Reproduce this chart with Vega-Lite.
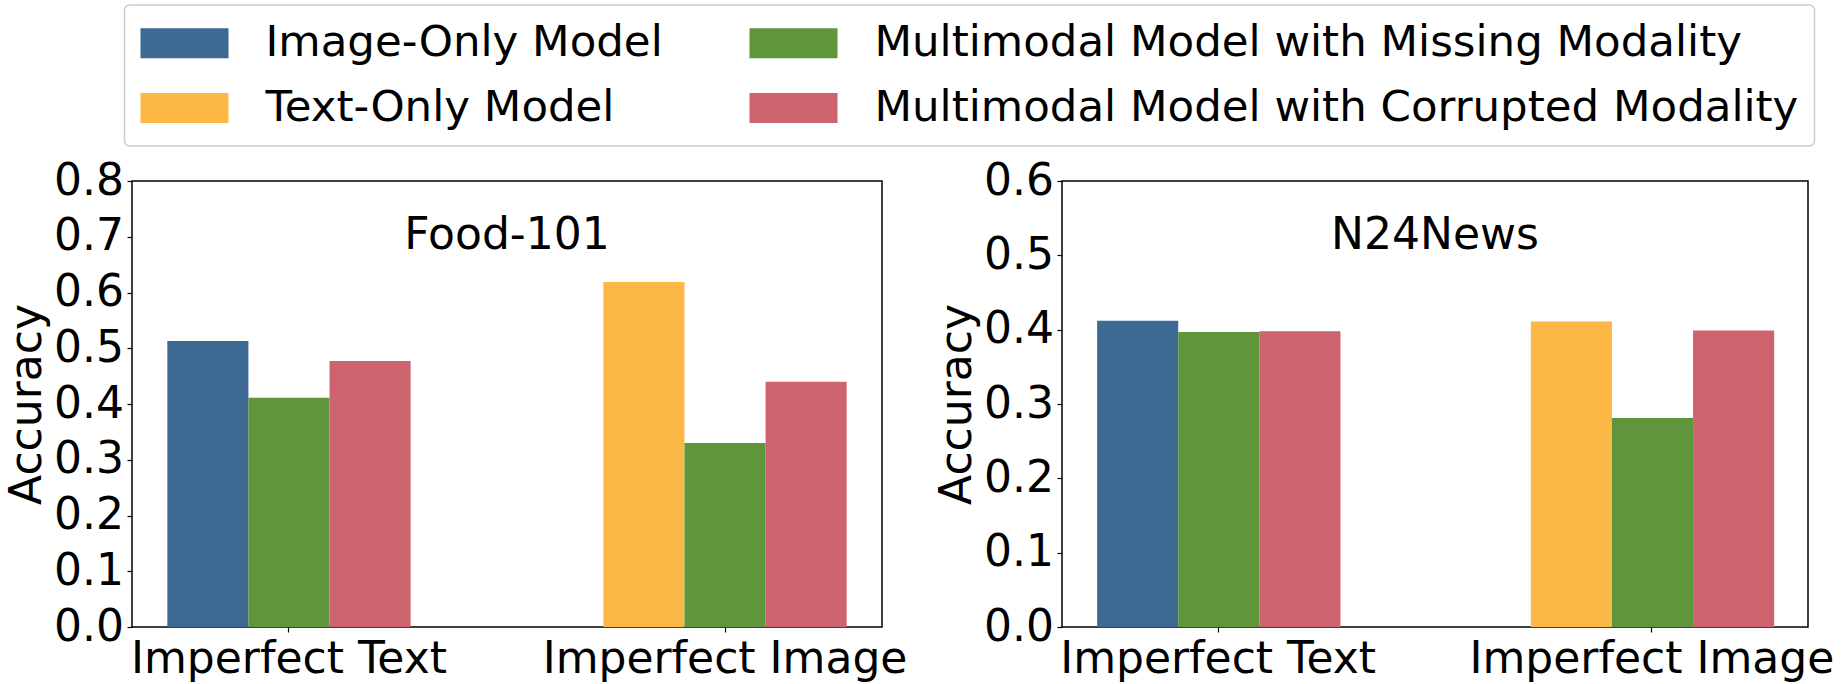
{
  "$schema": "https://vega.github.io/schema/vega-lite/v6.json",
  "padding": {"left": 4, "top": 4, "right": 5, "bottom": 5},
  "data": {
    "values": [
      {"dataset": "Food-101", "condition": "Imperfect Text", "slot": "a", "model": "Image-Only Model", "accuracy": 0.513},
      {"dataset": "Food-101", "condition": "Imperfect Text", "slot": "b", "model": "Multimodal Model with Missing Modality", "accuracy": 0.411},
      {"dataset": "Food-101", "condition": "Imperfect Text", "slot": "c", "model": "Multimodal Model with Corrupted Modality", "accuracy": 0.477},
      {"dataset": "Food-101", "condition": "Imperfect Image", "slot": "a", "model": "Text-Only Model", "accuracy": 0.619},
      {"dataset": "Food-101", "condition": "Imperfect Image", "slot": "b", "model": "Multimodal Model with Missing Modality", "accuracy": 0.330},
      {"dataset": "Food-101", "condition": "Imperfect Image", "slot": "c", "model": "Multimodal Model with Corrupted Modality", "accuracy": 0.440},
      {"dataset": "N24News", "condition": "Imperfect Text", "slot": "a", "model": "Image-Only Model", "accuracy": 0.412},
      {"dataset": "N24News", "condition": "Imperfect Text", "slot": "b", "model": "Multimodal Model with Missing Modality", "accuracy": 0.397},
      {"dataset": "N24News", "condition": "Imperfect Text", "slot": "c", "model": "Multimodal Model with Corrupted Modality", "accuracy": 0.398},
      {"dataset": "N24News", "condition": "Imperfect Image", "slot": "a", "model": "Text-Only Model", "accuracy": 0.411},
      {"dataset": "N24News", "condition": "Imperfect Image", "slot": "b", "model": "Multimodal Model with Missing Modality", "accuracy": 0.281},
      {"dataset": "N24News", "condition": "Imperfect Image", "slot": "c", "model": "Multimodal Model with Corrupted Modality", "accuracy": 0.399}
    ]
  },
  "spacing": 26,
  "hconcat": [
    {
      "width": 750,
      "height": 446,
      "title": {"text": "Food-101"},
      "transform": [{"filter": "datum.dataset === 'Food-101'"}],
      "mark": {"type": "bar"},
      "encoding": {
        "x": {
          "field": "condition", "type": "nominal",
          "sort": ["Imperfect Text", "Imperfect Image"],
          "scale": {"paddingInner": 0.442, "paddingOuter": 0.081},
          "axis": {"title": null, "labelAngle": 0}
        },
        "xOffset": {
          "field": "slot", "type": "nominal",
          "scale": {"domain": ["a", "b", "c"], "paddingInner": 0, "paddingOuter": 0}
        },
        "y": {
          "field": "accuracy", "type": "quantitative",
          "scale": {"domain": [0, 0.8], "nice": false},
          "axis": {"title": "Accuracy", "values": [0, 0.1, 0.2, 0.3, 0.4, 0.5, 0.6, 0.7, 0.8], "format": ".1f"}
        },
        "color": {
          "field": "model", "type": "nominal",
          "scale": {
            "domain": ["Image-Only Model", "Text-Only Model", "Multimodal Model with Missing Modality", "Multimodal Model with Corrupted Modality"],
            "range": ["#3c6a92", "#fcb847", "#5f963c", "#cd636e"]
          },
          "legend": {"orient": "none", "legendX": -7.5, "legendY": -176}
        }
      }
    },
    {
      "width": 746,
      "height": 446,
      "title": {"text": "N24News"},
      "transform": [{"filter": "datum.dataset === 'N24News'"}],
      "mark": {"type": "bar"},
      "encoding": {
        "x": {
          "field": "condition", "type": "nominal",
          "sort": ["Imperfect Text", "Imperfect Image"],
          "scale": {"paddingInner": 0.442, "paddingOuter": 0.081},
          "axis": {"title": null, "labelAngle": 0}
        },
        "xOffset": {
          "field": "slot", "type": "nominal",
          "scale": {"domain": ["a", "b", "c"], "paddingInner": 0, "paddingOuter": 0}
        },
        "y": {
          "field": "accuracy", "type": "quantitative",
          "scale": {"domain": [0, 0.6], "nice": false},
          "axis": {"title": "Accuracy", "values": [0, 0.1, 0.2, 0.3, 0.4, 0.5, 0.6], "format": ".1f"}
        },
        "color": {
          "field": "model", "type": "nominal",
          "scale": {
            "domain": ["Image-Only Model", "Text-Only Model", "Multimodal Model with Missing Modality", "Multimodal Model with Corrupted Modality"],
            "range": ["#3c6a92", "#fcb847", "#5f963c", "#cd636e"]
          },
          "legend": {"orient": "none", "legendX": -7.5, "legendY": -176}
        }
      }
    }
  ],
  "config": {
    "font": "DejaVu Sans",
    "view": {"stroke": "black", "strokeWidth": 1.5},
    "axis": {
      "domain": false,
      "grid": false,
      "tickColor": "black",
      "tickSize": 5,
      "tickWidth": 1.2,
      "labelColor": "black",
      "labelFont": "DejaVu Sans",
      "labelFontSize": 44,
      "labelLimit": 600,
      "titleFont": "DejaVu Sans",
      "titleFontSize": 44,
      "titleFontWeight": "normal",
      "titleColor": "black"
    },
    "axisX": {"labelPadding": 5},
    "axisY": {"labelPadding": 3.5, "titlePadding": 4, "labelFlush": false, "labelOverlap": false},
    "title": {
      "font": "DejaVu Sans",
      "fontSize": 44,
      "fontWeight": "normal",
      "color": "black",
      "offset": -99,
      "baseline": "alphabetic",
      "anchor": "middle",
      "frame": "group"
    },
    "legend": {
      "title": null,
      "columns": 2,
      "symbolType": "M-1,-0.68L3,-0.68L3,0.68L-1,0.68Z",
      "symbolSize": 1936,
      "symbolStrokeWidth": 0,
      "symbolOpacity": 1,
      "labelFont": "DejaVu Sans",
      "labelFontSize": 43.5,
      "labelColor": "black",
      "labelOffset": 81,
      "labelLimit": 0,
      "columnPadding": 86,
      "rowPadding": 21,
      "padding": 16,
      "strokeColor": "#cccccc",
      "strokeWidth": 1.5,
      "cornerRadius": 5,
      "fillColor": "white"
    }
  }
}
